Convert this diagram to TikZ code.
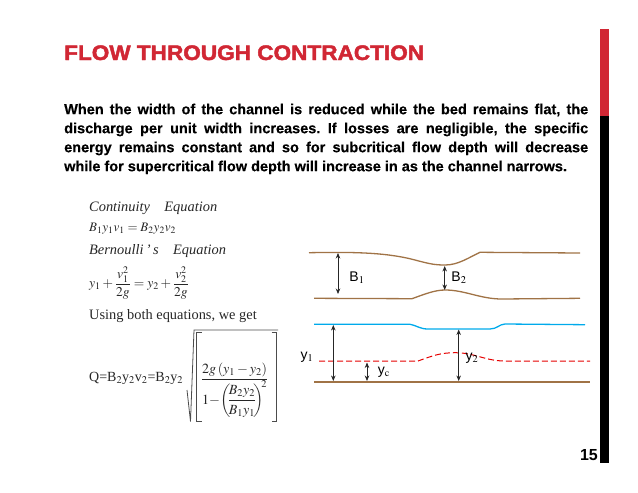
\documentclass[tikz,border=0pt]{standalone}
\usepackage{amsmath,amssymb}
\usepackage{mathptmx}
\usepackage{fontspec}
\setmainfont{Liberation Serif}
\newfontfamily\headfont{Liberation Sans}
\newfontfamily\titlefont{Liberation Sans Bold}[FakeBold=2.2,FakeStretch=1.075]
\newfontfamily\introfont{Liberation Sans Bold}[FakeBold=.3]
\usetikzlibrary{arrows.meta}
\usepackage{xcolor}
\definecolor{barred}{RGB}{209,39,52}
\definecolor{wallbrown}{RGB}{160,115,70}
\definecolor{waterblue}{RGB}{0,170,235}
\tikzset{
	wall/.style={color=wallbrown, line width=1.3pt},
	dim/.style={color=black!85, line width=.7pt, {Stealth[length=5.5pt,width=4.5pt]}-{Stealth[length=5.5pt,width=4.5pt]}},
	lab/.style={font=\headfont\fontsize{14}{16}\selectfont, inner sep=0pt},
	eqn/.style={font=\fontsize{14.4}{16}\selectfont, anchor=west, inner sep=0pt, text=black!85},
	rootline/.style={color=black!70, line width=.8pt}
}
\begin{document}
\begin{tikzpicture}[x=1pt,y=-1pt]
		\useasboundingbox (0,0) rectangle (638,493);
		\fill[color=barred] (600,29) rectangle (609,116);
		\fill[color=black] (600,116) rectangle (609,463);
		\node[anchor=base west, inner sep=0pt, text=barred] (title) at (64,60)
		{\titlefont\fontsize{21}{23}\selectfont FLOW THROUGH CONTRACTION};
		\node[anchor=north west, inner sep=0pt, text width=524pt, align=justify, font=\introfont\fontsize{14.5}{19}\selectfont] (intro) at (64,103.5)
		{\frenchspacing When the width of the channel is reduced while the bed remains flat, the\linebreak
		discharge per unit width increases. If losses are negligible, the specific\linebreak
		energy remains constant and so for subcritical flow depth will decrease\linebreak
		while for supercritical flow depth will increase in as the channel narrows.};
		\node[anchor=base east, inner sep=0pt, font=\headfont\bfseries\fontsize{16}{18}\selectfont] (pagenum) at (598,460) {15};
		% equations
		\node[eqn] (conteq) at (89,208) {\textit{Continuity}\hspace{1em}\textit{Equation}};
		\node[eqn, font=\fontsize{13}{15}\selectfont] (contform) at (89,229) {$B_1y_1v_1=B_2y_2v_2$};
		\node[eqn] (berneq) at (89,251) {\textit{Bernoulli\,'\,s}\hspace{1em}\textit{Equation}};
		\node[eqn, font=\fontsize{13.5}{15}\selectfont] (bernform) at (89,283) {$y_1+\dfrac{v_1^2}{2g}=y_2+\dfrac{v_2^2}{2g}$};
		\node[eqn] (using) at (89,316) {Using both equations, we get};
		\node[eqn, font=\fontsize{14}{16}\selectfont] (flow) at (89,378) {Q=B$_2$y$_2$v$_2$=B$_2$y$_2$};
		\node[eqn, font=\fontsize{14}{16}\selectfont] (ratio) at (202,390) {\nulldelimiterspace=0pt$\dfrac{2g\,(y_1-y_2)}{{1{-}}\!\left(\!\dfrac{B_2y_2\rule[-2pt]{0pt}{0pt}}{\rule{0pt}{12pt}B_1y_1}\!\right)^{\!\!2}}$};
		\draw[rootline] (187,390) -- (190.5,421.5) -- (194,330) -- (278,330);
		\draw[rootline] (201.7,332) -- (196.7,332) -- (196.7,421.7) -- (201.7,421.7);
		\draw[rootline] (271.7,332) -- (276.7,332) -- (276.7,421.7) -- (271.7,421.7);
		% plan view
		\draw[wall] (309,252.7) .. controls (350,252) and (385,252) .. (415,260) .. controls (430,264) and (435,265) .. (445,265) .. controls (458,265) and (468,258) .. (480,252.3) -- (580,253);
		\draw[wall] (314,298.3) -- (412,298.7) .. controls (425,294) and (435,290) .. (445,290) .. controls (465,290) and (480,299) .. (502,299) -- (580,298.3);
		\coordinate (widthAtop) at (338,253);
		\coordinate (widthAbot) at (338,294);
		\coordinate (widthBtop) at (444.7,266);
		\coordinate (widthBbot) at (444.7,290);
		\draw[dim] (widthAtop) -- (widthAbot);
		\draw[dim] (widthBtop) -- (widthBbot);
		\node[lab] (Bone) at (357,278) {B$_1$};
		\node[lab] (Btwo) at (459,278) {B$_2$};
		% side view
		\draw[color=waterblue, line width=1.3pt] (314,324.3) -- (410,324.3) .. controls (418,326) and (420,329) .. (428,329) -- (490,329) .. controls (497,329) and (499,324.3) .. (505,324) -- (585,324.7);
		\draw[color=red!90!black, line width=1pt, dash pattern=on 6pt off 3pt] (319,361) -- (418,361) .. controls (432,356) and (440,352.7) .. (455,352.7) .. controls (475,352.7) and (485,361) .. (505,361) -- (590,361);
		\draw[color=wallbrown, line width=2pt] (314,381.7) -- (590,381.7);
		\coordinate (depthAtop) at (333.3,325);
		\coordinate (depthAbot) at (333.3,381);
		\coordinate (depthBtop) at (458.7,329.5);
		\coordinate (depthBbot) at (458.7,381);
		\coordinate (depthCtop) at (367,362.5);
		\coordinate (depthCbot) at (367,381);
		\draw[dim] (depthAtop) -- (depthAbot);
		\draw[dim] (depthBtop) -- (depthBbot);
		\draw[dim] (depthCtop) -- (depthCbot);
		\node[lab] (yone) at (307,357) {y$_1$};
		\node[lab] (ytwo) at (472,358) {y$_2$};
		\node[lab] (yc) at (384,372) {y$_{\mathrm{c}}$};
	\end{tikzpicture}
\end{document}
